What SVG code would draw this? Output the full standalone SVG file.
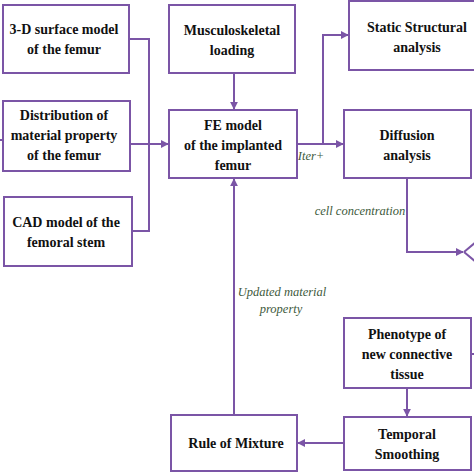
<svg xmlns="http://www.w3.org/2000/svg" width="474" height="474" viewBox="0 0 474 474">
<style>
.box{fill:#fff;stroke:#7b55a6;stroke-width:2}
.t{font-family:"Liberation Serif","Times New Roman",serif;font-weight:bold;font-size:14px;fill:#111;text-anchor:middle}
.lbl{font-family:"Liberation Serif","Times New Roman",serif;font-style:italic;font-size:12.5px;fill:#3e5a3c;text-anchor:middle}
.c{fill:none;stroke:#7b55a6;stroke-width:2}
</style>
<defs>
<marker id="ah" viewBox="0 0 10 10" refX="9" refY="5" markerWidth="4" markerHeight="4" orient="auto" markerUnits="strokeWidth">
<path d="M0,0 L10,5 L0,10 z" fill="#7b55a6"/>
</marker>
</defs>
<rect width="474" height="474" fill="#fff"/>
<g id="connectors">
<path class="c" d="M129,39 H149 V231 H132"/>
<path class="c" d="M0,140 H3"/>
<path class="c" d="M130,144 H168" marker-end="url(#ah)"/>
<path class="c" d="M234,73 V109" marker-end="url(#ah)"/>
<path class="c" d="M297,144 H343" marker-end="url(#ah)"/>
<path class="c" d="M323,144 V35 H348" marker-end="url(#ah)"/>
<path class="c" d="M407,178 V252 H463" marker-end="url(#ah)"/>
<path class="c" d="M464,252 L476,242 M464,252 L476,262"/>
<path class="c" d="M471,354 H474"/>
<path class="c" d="M407,388 V416" marker-end="url(#ah)"/>
<path class="c" d="M344,443 H298" marker-end="url(#ah)"/>
<path class="c" d="M234,415 V179" marker-end="url(#ah)"/>
</g>
<g id="labels">
<text class="lbl" x="311" y="160">Iter+</text>
<text class="lbl" x="360" y="215">cell concentration</text>
<text class="lbl" x="282" y="296">Updated material</text>
<text class="lbl" x="281" y="313">property</text>
</g>
<g id="surface">
<rect class="box" x="3" y="5" width="126" height="68"/>
<text class="t" x="64" y="34">3-D surface model</text>
<text class="t" x="64" y="54">of the femur</text>
</g>
<g id="distribution">
<rect class="box" x="3" y="101" width="127" height="70"/>
<text class="t" x="64" y="120">Distribution of</text>
<text class="t" x="64" y="140">material property</text>
<text class="t" x="64" y="160">of the femur</text>
</g>
<g id="cad">
<rect class="box" x="4" y="197" width="128" height="69"/>
<text class="t" x="66" y="227">CAD model of the</text>
<text class="t" x="66" y="247">femoral stem</text>
</g>
<g id="musculoskeletal">
<rect class="box" x="169" y="5" width="126" height="68"/>
<text class="t" x="232" y="35">Musculoskeletal</text>
<text class="t" x="232" y="55">loading</text>
</g>
<g id="fe">
<rect class="box" x="169" y="110" width="128" height="68"/>
<text class="t" x="233" y="130">FE model</text>
<text class="t" x="233" y="150">of the implanted</text>
<text class="t" x="233" y="170">femur</text>
</g>
<g id="static">
<rect class="box" x="349" y="1" width="130" height="69"/>
<text class="t" x="417" y="32">Static Structural</text>
<text class="t" x="417" y="52">analysis</text>
</g>
<g id="diffusion">
<rect class="box" x="344" y="110" width="127" height="68"/>
<text class="t" x="407" y="140">Diffusion</text>
<text class="t" x="407" y="160">analysis</text>
</g>
<g id="phenotype">
<rect class="box" x="344" y="318" width="127" height="70"/>
<text class="t" x="407" y="339">Phenotype of</text>
<text class="t" x="407" y="359">new connective</text>
<text class="t" x="407" y="379">tissue</text>
</g>
<g id="temporal">
<rect class="box" x="344" y="417" width="127" height="53"/>
<text class="t" x="407" y="439">Temporal</text>
<text class="t" x="407" y="459">Smoothing</text>
</g>
<g id="rule">
<rect class="box" x="171" y="415" width="126" height="56"/>
<text class="t" x="236" y="448">Rule of Mixture</text>
</g>
</svg>
